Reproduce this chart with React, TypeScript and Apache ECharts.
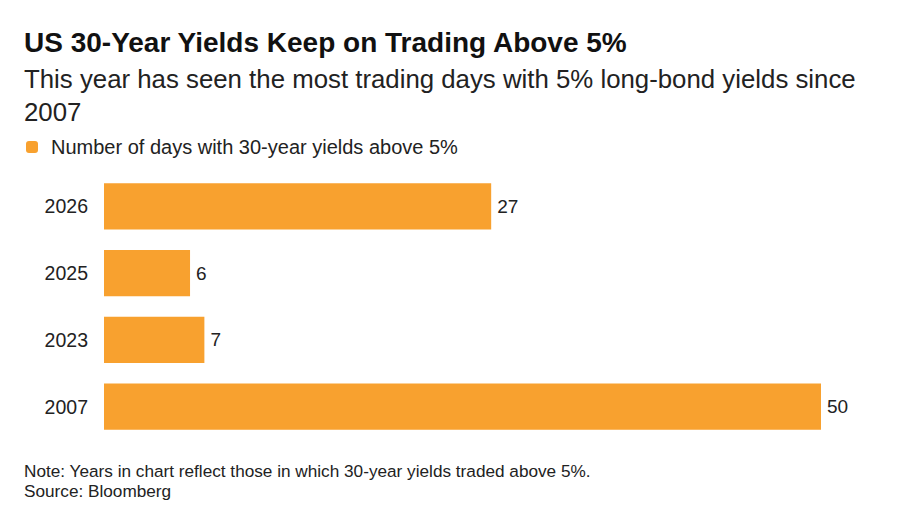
import React, { useEffect, useRef } from "react";
import * as echarts from "echarts";

const categories = ["2007", "2023", "2025", "2026"];
const values = [50, 7, 6, 27];
const seriesName = "Number of days with 30-year yields above 5%";
const titleText = "US 30-Year Yields Keep on Trading Above 5%";
const subtitleText = "This year has seen the most trading days with 5% long-bond yields since\n2007";
const noteText = "Note: Years in chart reflect those in which 30-year yields traded above 5%.";
const sourceText = "Source: Bloomberg";

const FONT = "'Liberation Sans', Arial, sans-serif";
const BAR = "#F8A12F";

export default function App() {
  const ref = useRef<HTMLDivElement>(null);
  useEffect(() => {
    document.body.style.margin = "0";
    const chart = echarts.init(ref.current!, null, { renderer: "svg" });
    chart.setOption({
      animation: false,
      backgroundColor: "#ffffff",
      textStyle: { fontFamily: FONT },
      grid: { left: 104, right: 79, top: 173, bottom: 76, containLabel: false },
      legend: {
        left: 26,
        top: 137,
        padding: 0,
        icon: "roundRect",
        itemWidth: 12,
        itemHeight: 12,
        textStyle: { fontSize: 20, color: "#222", fontFamily: FONT, padding: [0, 0, 0, 8] },
        data: [seriesName],
      },
      xAxis: {
        type: "value",
        min: 0,
        max: 50,
        show: false,
      },
      yAxis: {
        type: "category",
        data: categories,
        axisLine: { show: false },
        axisTick: { show: false },
        axisLabel: { fontSize: 19.5, color: "#222", margin: 16, fontFamily: FONT },
      },
      series: [
        {
          name: seriesName,
          type: "bar",
          data: values,
          barCategoryGap: "31%",
          itemStyle: { color: BAR },
          label: {
            show: true,
            position: "right",
            distance: 6,
            fontSize: 19,
            color: "#222",
            fontFamily: FONT,
          },
        },
      ],
      graphic: [
        {
          type: "text",
          left: 24,
          top: 28,
          style: { text: titleText, font: `bold 28px ${FONT}`, fill: "#111" },
        },
        {
          type: "text",
          left: 24,
          top: 62,
          style: { text: subtitleText, font: `25.8px ${FONT}`, fill: "#222", lineHeight: 33 },
        },
        {
          type: "text",
          left: 24,
          top: 462,
          style: { text: noteText, font: `17.2px ${FONT}`, fill: "#222" },
        },
        {
          type: "text",
          left: 24,
          top: 482,
          style: { text: sourceText, font: `17.2px ${FONT}`, fill: "#222" },
        },
      ],
    });
    return () => chart.dispose();
  }, []);
  return <div ref={ref} style={{ width: 900, height: 516 }} />;
}
